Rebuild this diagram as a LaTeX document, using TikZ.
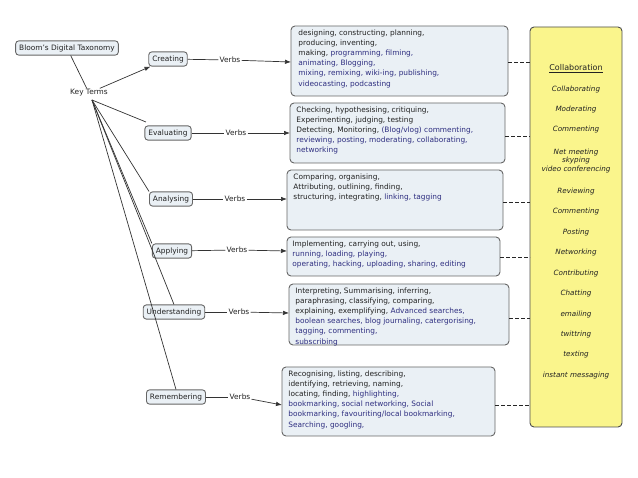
\documentclass[tikz,border=0pt]{standalone}
\usepackage{fontspec}
\setmainfont{DejaVu Sans}
\usetikzlibrary{arrows.meta}
\definecolor{bt}{HTML}{2E2E80}
\definecolor{tx}{HTML}{222222}
\definecolor{bx}{HTML}{EAF0F5}
\definecolor{yl}{HTML}{FAF58C}
\tikzset{
 concept/.style={draw=gray!80!black,line width=0.9pt,rounded corners=3pt,fill=bx,font=\fontsize{7.4}{9}\selectfont,text=tx,inner sep=3.5pt},
 verbbox/.style={draw=gray!80!black,line width=0.9pt,rounded corners=4pt,fill=bx,anchor=north west,align=left,font=\fontsize{7.4}{10.2}\selectfont,text=tx,inner sep=0pt},
 lbl/.style={font=\fontsize{7.4}{9}\selectfont,text=tx,fill=white,inner sep=1pt},
 link/.style={draw=gray!40!black,line width=0.7pt},
 arr/.style={link,-{Latex[length=6pt,width=4.5pt]}},
 dline/.style={draw=gray!30!black,line width=0.8pt,dash pattern=on 4pt off 2pt},
 yi/.style={font=\fontsize{7.2}{9.5}\selectfont\itshape,text=tx,align=center}
}
\newcommand{\bb}[1]{\textcolor{bt}{#1}}
\begin{document}
\begin{tikzpicture}[x=1pt,y=-1pt]
\useasboundingbox (0,0) rectangle (638,478);
% verb boxes as rectangles
\draw[verbbox] (291,26) rectangle (508,96);
\draw[verbbox] (290,103) rectangle (505,163);
\draw[verbbox] (287,170) rectangle (503,230);
\draw[verbbox] (287,237) rectangle (500,276);
\draw[verbbox] (289,284) rectangle (509,345);
\draw[verbbox] (282,367) rectangle (495,436);
\coordinate (v1) at (291,62); \coordinate (v2) at (290,133); \coordinate (v3) at (287,199);
\coordinate (v4) at (287,251); \coordinate (v5) at (289,313); \coordinate (v6) at (282,405);
\node[verbbox,draw=none,fill=none] (t1) at (298,29) {designing, constructing, planning,\\producing, inventing,\\making, \bb{programming, filming,}\\\bb{animating, Blogging,}\\\bb{mixing, remixing, wiki-ing, publishing,}\\\bb{videocasting, podcasting}};
\node[verbbox,draw=none,fill=none] (t2) at (296,106) {Checking, hypothesising, critiquing,\\Experimenting, judging, testing\\Detecting, Monitoring, \bb{(Blog/vlog) commenting,}\\\bb{reviewing, posting, moderating, collaborating,}\\\bb{networking}};
\node[verbbox,draw=none,fill=none] (t3) at (293,173) {Comparing, organising,\\Attributing, outlining, finding,\\structuring, integrating, \bb{linking, tagging}};
\node[verbbox,draw=none,fill=none] (t4) at (292,240) {Implementing, carrying out, using,\\\bb{running, loading, playing,}\\\bb{operating, hacking, uploading, sharing, editing}};
\node[verbbox,draw=none,fill=none] (t5) at (295,287) {Interpreting, Summarising, inferring,\\paraphrasing, classifying, comparing,\\explaining, exemplifying, \bb{Advanced searches,}\\\bb{boolean searches, blog journaling, catergorising,}\\\bb{tagging, commenting,}\\\bb{subscribing}};
\node[verbbox,draw=none,fill=none] (t6) at (288,370) {Recognising, listing, describing,\\identifying, retrieving, naming,\\locating, finding, \bb{highlighting,}\\\bb{bookmarking, social networking, Social}\\\bb{bookmarking, favouriting/local bookmarking,}\\\bb{Searching, googling,}};
% yellow box
\draw[draw=gray!60!black,line width=0.9pt,rounded corners=4pt,fill=yl] (530,27) rectangle (622,427);
\coordinate (y1) at (530,62); \coordinate (y2) at (530,136); \coordinate (y3) at (530,202);
\coordinate (y4) at (530,257); \coordinate (y5) at (530,318); \coordinate (y6) at (530,405);
\draw[dline] (508,62)--(y1); \draw[dline] (505,136)--(y2); \draw[dline] (503,202)--(y3);
\draw[dline] (500,257)--(y4); \draw[dline] (509,318)--(y5); \draw[dline] (495,405)--(y6);
\node[font=\fontsize{8}{9}\selectfont,text=tx] (yc) at (576,69) {\underline{Collaboration}};
\node[yi] (ya) at (576,90) {Collaborating};
\node[yi] (yb) at (576,110) {Moderating};
\node[yi] (yd) at (576,130) {Commenting};
\node[yi] (ye) at (576,161) {Net meeting\\[-1pt]skyping\\[-1pt]video conferencing};
\node[yi] (yf) at (576,192) {Reviewing};
\node[yi] (yg) at (576,212) {Commenting};
\node[yi] (yh) at (576,233) {Posting};
\node[yi] (yi2) at (576,253) {Networking};
\node[yi] (yj) at (576,274) {Contributing};
\node[yi] (yk) at (576,294) {Chatting};
\node[yi] (yl2) at (576,315) {emailing};
\node[yi] (ym) at (576,335) {twittring};
\node[yi] (yn) at (576,355) {texting};
\node[yi] (yo) at (576,376) {instant messaging};
% concepts
\node[concept] (bloom) at (67,48) {Bloom's Digital Taxonomy};
\node[font=\fontsize{7.4}{9}\selectfont,text=tx,inner sep=1pt] (kt) at (89,93) {Key Terms};
\node[concept] (c1) at (168,59) {Creating};
\node[concept] (c2) at (168,133) {Evaluating};
\node[concept] (c3) at (171,199) {Analysing};
\node[concept] (c4) at (172,251) {Applying};
\node[concept] (c5) at (174,312) {Understanding};
\node[concept] (c6) at (176,397) {Remembering};
\draw[link] (bloom) -- (kt);
\draw[arr] (kt) -- (c1);
\coordinate (ko) at (92,100);
\draw[link] (ko) -- (146,122);
\draw[link] (ko) -- (c3.north west);
\draw[link] (ko) -- (c4.north west);
\draw[link] (ko) -- (c5.north);
\draw[link] (ko) -- (c6.north);
\foreach \i/\x/\y in {1/230/60,2/236/133,3/235/199,4/237/250,5/239/312,6/240/397}{
  \node[lbl] (vb\i) at (\x,\y) {Verbs};
  \draw[link] (c\i) -- (vb\i);
  \draw[arr] (vb\i) -- (v\i);
}
\end{tikzpicture}
\end{document}
